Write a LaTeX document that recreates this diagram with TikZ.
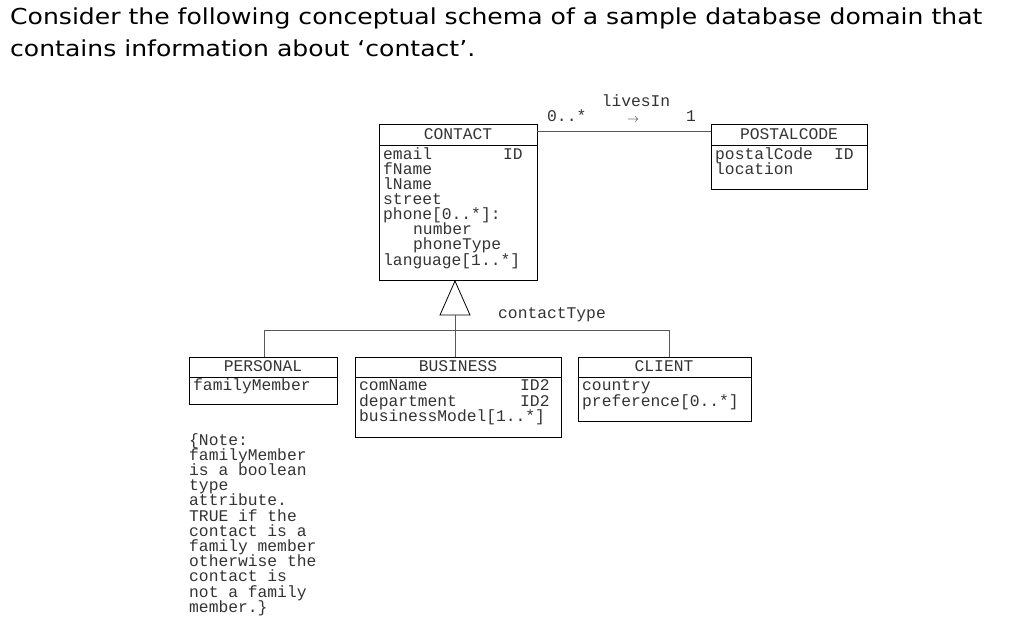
\documentclass[tikz,border=0pt]{standalone}
\usepackage{fontspec}
\setmainfont{DejaVu Sans}
\newfontfamily\mono{Liberation Mono}
\begin{document}
\begin{tikzpicture}[x=1pt,y=-1pt,
  box/.style={draw,line width=0.8pt},
  ln/.style={draw,line width=0.6pt,gray!70!black},
  t/.style={inner sep=0pt,anchor=base west,font=\mono\fontsize{16.3}{16}\selectfont,text=black!80},
  tc/.style={t,anchor=base},
  ttl/.style={inner sep=0pt,anchor=base west,font=\fontsize{22}{24}\selectfont}]
\useasboundingbox (0,0) rectangle (1010,625);
\node[ttl] (title1) at (10,24) {\scalebox{1.14}[1]{Consider the following conceptual schema of a sample database domain that}};
\node[ttl] (title2) at (10,56) {\scalebox{1.14}[1]{contains information about ‘contact’.}};
% CONTACT
\path[box] (379,124) rectangle (537,280);
\draw[line width=0.8pt] (379,145) -- (537,145);
\node[tc] (cn) at (458,139) {CONTACT};
\foreach \n/\y/\s in {a/159/email,b/174/fName,c/189/lName,d/204/street,e/219/{phone[0..*]:},h/265/{language[1..*]}}
  \node[t] (c\n) at (383,\y) {\s};
\node[t] (cf) at (413,234) {number};
\node[t] (cg) at (413,249) {phoneType};
\node[t] (cid) at (503,159) {ID};
% POSTALCODE
\path[box] (711,124) rectangle (867,189);
\draw[line width=0.8pt] (711,145) -- (867,145);
\node[tc] (pn) at (789,139) {POSTALCODE};
\node[t] (pa) at (715,159) {postalCode};
\node[t] (pid) at (834,159) {ID};
\node[t] (pb) at (715,174) {location};
\coordinate (cR) at (537,131); \coordinate (pL) at (711,131);
\draw[ln] (cR) -- (pL);
\node[t] (m1) at (547,121) {0..*};
\node[t] (m2) at (686,121) {1};
\node[tc] (rel) at (636,106) {livesIn};
\node[tc] (arr) at (633,122) {\fontsize{13}{13}\selectfont$\rightarrow$};
% generalization
\coordinate (ap) at (455,281);
\draw[line width=0.8pt,fill=white] (ap) -- (470,315) -- (440,315) -- cycle;
\node[t] (ct) at (498,318) {contactType};
\path[box] (189,357) rectangle (337,404);
\draw[line width=0.8pt] (189,377) -- (337,377);
\node[tc] (pe) at (263,371) {PERSONAL};
\node[t] (pe1) at (193,390) {familyMember};
\path[box] (355,357) rectangle (561,437);
\draw[line width=0.8pt] (355,377) -- (561,377);
\node[tc] (bu) at (458,371) {BUSINESS};
\node[t] (bu1) at (359,390) {comName};
\node[t] (bu2) at (359,406) {department};
\node[t] (bu3) at (359,421) {businessModel[1..*]};
\node[t] (bi1) at (520,390) {ID2};
\node[t] (bi2) at (520,406) {ID2};
\path[box] (578,357) rectangle (751,421);
\draw[line width=0.8pt] (578,377) -- (751,377);
\node[tc] (cl) at (664,371) {CLIENT};
\node[t] (cl1) at (582,390) {country};
\node[t] (cl2) at (582,406) {preference[0..*]};
\draw[ln] (455,315) -- (455,330);
\draw[ln] (264,357) -- (264,330) -- (669,330) -- (669,357);
\draw[ln] (455,330) -- (455,357);
% note
\foreach \i/\s in {0/{\{Note:},1/familyMember,2/{is a boolean},3/type,4/attribute.,5/{TRUE if the},6/{contact is a},7/{family member},8/{otherwise the},9/{contact is},10/{not a family},11/{member.\}}}
  \node[t] (n\i) at (189,{445+15.2*\i}) {\s};
\end{tikzpicture}
\end{document}
